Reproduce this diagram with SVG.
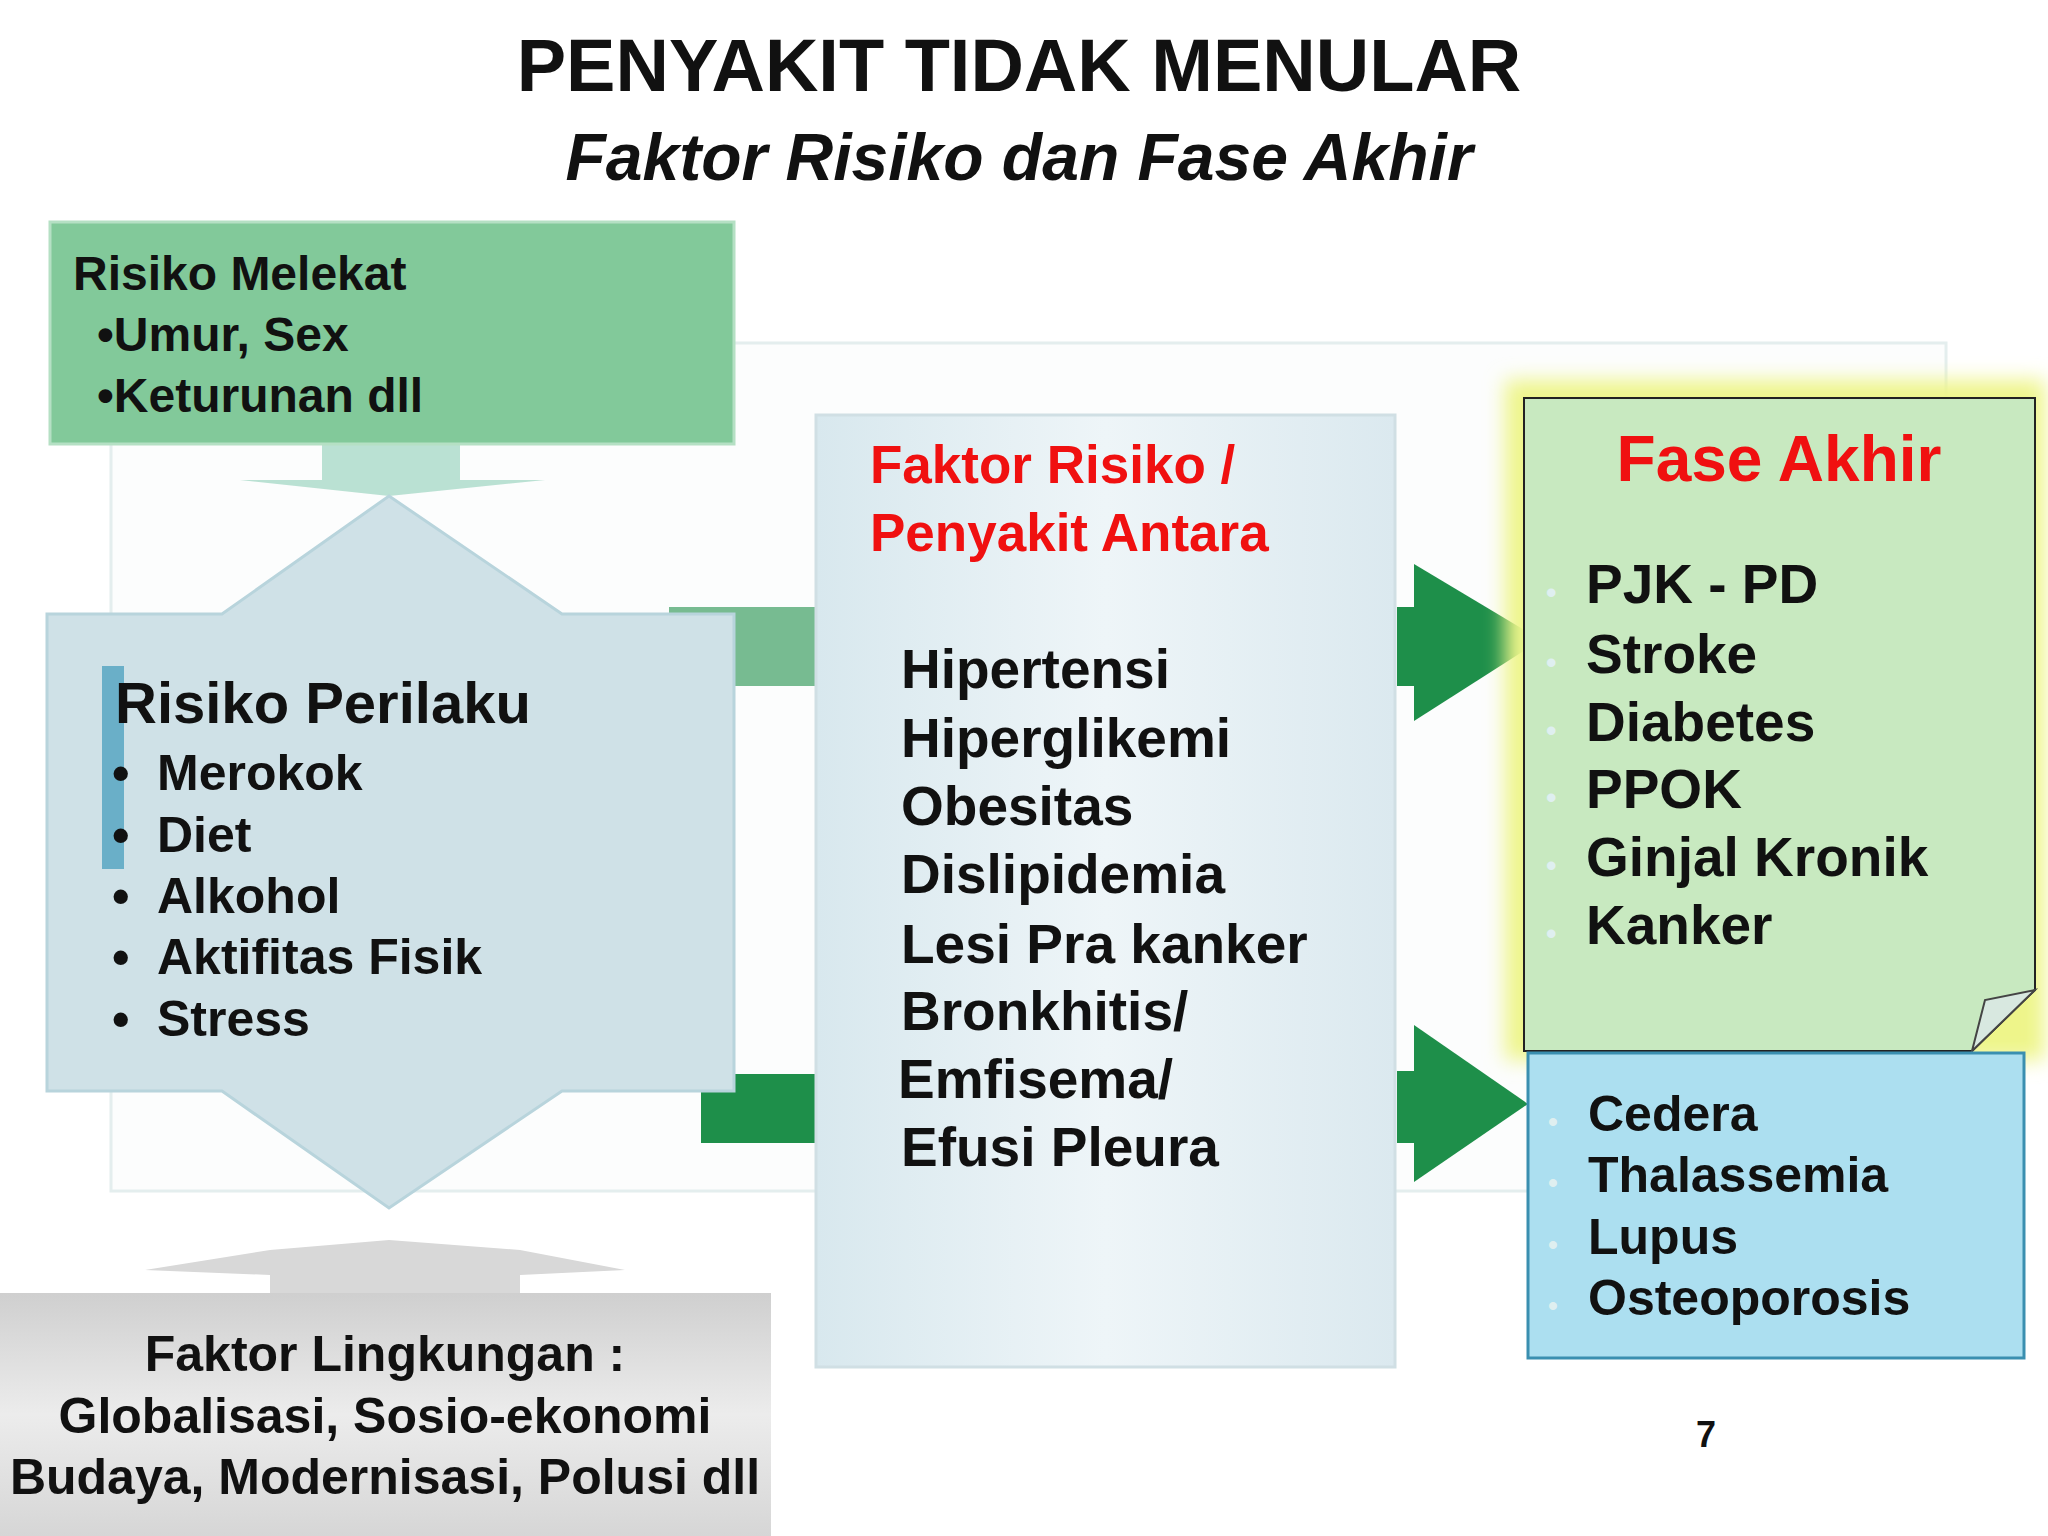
<svg xmlns="http://www.w3.org/2000/svg" width="2048" height="1536" viewBox="0 0 2048 1536">
<defs>
<style>
text{font-family:"Liberation Sans",Arial,sans-serif;font-weight:bold;fill:#111}
.red{fill:#f01010}
.b{font-size:55px}
.bul{fill:#dfeff0}
</style>
<linearGradient id="gm" x1="0" y1="0" x2="1" y2="0"><stop offset="0" stop-color="#d8e8ee"/><stop offset="0.5" stop-color="#eef5f8"/><stop offset="1" stop-color="#dbe9ef"/></linearGradient>
<linearGradient id="gg" x1="0" y1="0" x2="0" y2="1"><stop offset="0" stop-color="#cfcfcf"/><stop offset="0.5" stop-color="#ececec"/><stop offset="1" stop-color="#d6d6d6"/></linearGradient>
<filter id="glow" x="-10%" y="-10%" width="120%" height="120%"><feGaussianBlur stdDeviation="10"/></filter>
</defs>
<rect width="2048" height="1536" fill="#fff"/>
<text x="1019" y="91" text-anchor="middle" font-size="74">PENYAKIT TIDAK MENULAR</text>
<text x="1019" y="180" text-anchor="middle" font-size="66" font-style="italic">Faktor Risiko dan Fase Akhir</text>
<rect x="111" y="343" width="1835" height="848" fill="#fcfdfd" stroke="#e4eeee" stroke-width="3"/>
<g id="connectors">
<rect x="669" y="607" width="147" height="79" fill="#1e8f4a" opacity="0.6"/>
<rect x="701" y="1074" width="115" height="69" fill="#1e8f4a"/>
<rect x="1397" y="607" width="20" height="79" fill="#1e8f4a"/>
<polygon points="1414,564 1414,721 1541,640" fill="#1e8f4a"/>
<rect x="1397" y="1071" width="20" height="72" fill="#1e8f4a"/>
<polygon points="1414,1025 1414,1182 1528,1104" fill="#1e8f4a"/>
<polygon points="322,444 460,444 460,480 545,480 389,496 240,480 322,480" fill="#a9d9c8" opacity="0.8"/>
<polygon points="270,1250 145,1270 270,1275 270,1293 520,1293 520,1275 625,1270 520,1250 389,1240" fill="#d8d8d8"/>
</g>
<g id="melekat">
<rect x="50" y="222" width="684" height="222" fill="#82c99a" stroke="#b5e0c4" stroke-width="3"/>
<text x="73" y="290" font-size="48">Risiko Melekat</text>
<text x="97" y="351" font-size="48">•Umur, Sex</text>
<text x="97" y="412" font-size="48">•Keturunan dll</text>
</g>
<g id="perilaku">
<polygon points="389,496 562,614 734,614 734,1091 562,1091 389,1208 222,1091 47,1091 47,614 222,614" fill="#cfe1e7" stroke="#b8d4dc" stroke-width="3"/>
<rect x="102" y="666" width="22" height="203" fill="#6aafc8"/>
<text x="115" y="723" font-size="58" fill="#222">Risiko Perilaku</text>
<g font-size="50">
<text x="112" y="790">•</text><text x="157" y="790">Merokok</text>
<text x="112" y="852">•</text><text x="157" y="852">Diet</text>
<text x="112" y="913">•</text><text x="157" y="913">Alkohol</text>
<text x="112" y="974">•</text><text x="157" y="974">Aktifitas Fisik</text>
<text x="112" y="1036">•</text><text x="157" y="1036">Stress</text>
</g>
</g>
<g id="lingkungan">
<rect x="0" y="1293" width="771" height="243" fill="url(#gg)"/>
<g font-size="50" text-anchor="middle">
<text x="385" y="1371">Faktor Lingkungan :</text>
<text x="385" y="1433">Globalisasi, Sosio-ekonomi</text>
<text x="385" y="1494">Budaya, Modernisasi, Polusi dll</text>
</g>
</g>
<g id="antara">
<rect x="816" y="415" width="579" height="952" fill="url(#gm)" stroke="#d0dfe4" stroke-width="3"/>
<text x="870" y="483" font-size="53" class="red">Faktor Risiko /</text>
<text x="870" y="551" font-size="53" class="red">Penyakit Antara</text>
<g class="b">
<text x="901" y="688">Hipertensi</text>
<text x="901" y="757">Hiperglikemi</text>
<text x="901" y="825">Obesitas</text>
<text x="901" y="893">Dislipidemia</text>
<text x="901" y="963">Lesi Pra kanker</text>
<text x="901" y="1030">Bronkhitis/</text>
<text x="898" y="1098">Emfisema/</text>
<text x="901" y="1166">Efusi Pleura</text>
</g>
</g>
<g id="fase">
<rect x="1505" y="380" width="540" height="680" fill="#eef58a" filter="url(#glow)"/>
<polygon points="1524,398 2035,398 2035,990 1972,1051 1524,1051" fill="#c8e9c0" stroke="#222" stroke-width="2"/>
<polygon points="1972,1051 1985,1000 2035,990" fill="#d8e8e0" stroke="#444" stroke-width="2"/>
<text x="1779" y="481" text-anchor="middle" font-size="64" class="red">Fase Akhir</text>
<g class="b">
<text x="1546" y="603" class="bul" font-size="30">•</text><text x="1586" y="603">PJK - PD</text>
<text x="1546" y="673" class="bul" font-size="30">•</text><text x="1586" y="673">Stroke</text>
<text x="1546" y="741" class="bul" font-size="30">•</text><text x="1586" y="741">Diabetes</text>
<text x="1546" y="808" class="bul" font-size="30">•</text><text x="1586" y="808">PPOK</text>
<text x="1546" y="876" class="bul" font-size="30">•</text><text x="1586" y="876">Ginjal Kronik</text>
<text x="1546" y="944" class="bul" font-size="30">•</text><text x="1586" y="944">Kanker</text>
</g>
</g>
<g id="lain">
<rect x="1528" y="1053" width="496" height="305" fill="#acdff0" stroke="#3a8fb0" stroke-width="3"/>
<g font-size="50">
<text x="1548" y="1131" class="bul" font-size="28">•</text><text x="1588" y="1131">Cedera</text>
<text x="1548" y="1192" class="bul" font-size="28">•</text><text x="1588" y="1192">Thalassemia</text>
<text x="1548" y="1254" class="bul" font-size="28">•</text><text x="1588" y="1254">Lupus</text>
<text x="1548" y="1315" class="bul" font-size="28">•</text><text x="1588" y="1315">Osteoporosis</text>
</g>
</g>
<text x="1706" y="1447" text-anchor="middle" font-size="36" font-weight="normal">7</text>
</svg>
